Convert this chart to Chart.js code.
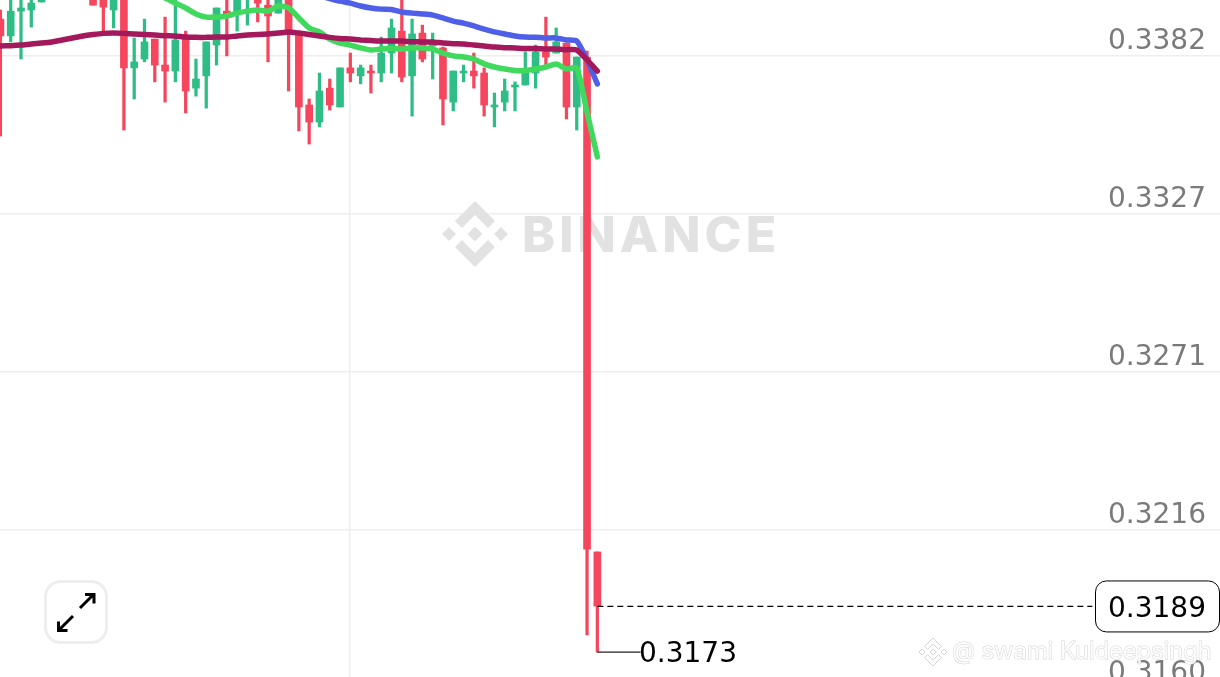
<!DOCTYPE html><html lang="en">
<head>
<meta charset="utf-8"/>
<title>Candlestick chart</title>
<script src="https://cdn.jsdelivr.net/npm/chart.js"></script>
<style>
  html,body{margin:0;padding:0;background:#fff;overflow:hidden;width:1220px;height:677px}
  canvas{position:absolute;left:0;top:0}
  .expand{position:absolute;left:44px;top:580px;width:64px;height:64px}
</style>
</head>
<body>
<canvas id="chart" width="1220" height="700"></canvas>
<svg class="expand" viewBox="44 580 64 64" aria-hidden="true">
  <rect x="45.5" y="581.5" width="61" height="61" rx="15" fill="#fff" stroke="#eeeeee" stroke-width="3"/>
  <path d="M80 608L93 595M85 594.5H94V603.5M73 616L59 630M58.500 621.500V630.500H67.500" fill="none" stroke="#000" stroke-width="3"/>
</svg>
<script>
// prices, one entry per candle
const opens = [
  0.33949,0.33890,0.33977,0.33981,0.34009,0.34058,0.34048,0.34062,0.34041,0.34034,
  0.34030,0.33981,0.34037,0.33778,0.33809,0.33879,0.33788,0.33767,0.33879,0.33707,
  0.33750,0.33858,0.33977,0.33974,0.33970,0.34027,0.33998,0.33970,0.34027,0.33900,
  0.33648,0.33588,0.33707,0.33641,0.33778,0.33750,0.33767,0.33760,0.33830,0.33907,
  0.33750,0.33900,0.33855,0.33848,0.33658,0.33760,0.33767,0.33760,0.33641,0.33658,
  0.33711,0.33718,0.33760,0.33834,0.33830,0.33865,0.33641,0.33816,0.32081];
const closes = [
  0.33890,0.33977,0.33988,0.34005,0.34027,0.34044,0.34065,0.34044,0.34058,0.33998,
  0.33991,0.34027,0.33778,0.33799,0.33869,0.33788,0.33767,0.33876,0.33697,0.33739,
  0.33869,0.33988,0.33967,0.34023,0.33981,0.34005,0.33960,0.34023,0.33911,0.33641,
  0.33588,0.33697,0.33648,0.33778,0.33760,0.33778,0.33760,0.33830,0.33918,0.33746,
  0.33897,0.33809,0.33869,0.33669,0.33767,0.33767,0.33750,0.33648,0.33648,0.33697,
  0.33718,0.33771,0.33834,0.33816,0.33869,0.33641,0.33816,0.32091,0.31891];
const highs = [
  0.33981,0.34034,0.34034,0.34027,0.34034,0.34069,0.34079,0.34072,0.34069,0.34044,
  0.34044,0.34037,0.34044,0.33883,0.33949,0.33879,0.33956,0.34027,0.33907,0.33809,
  0.33869,0.33988,0.34027,0.34034,0.34027,0.34034,0.34027,0.34034,0.34034,0.33900,
  0.33669,0.33760,0.33739,0.33778,0.33830,0.33788,0.33788,0.33886,0.33949,0.34034,
  0.33949,0.33928,0.33900,0.33851,0.33767,0.33788,0.33830,0.33778,0.33690,0.33739,
  0.33729,0.33834,0.33858,0.33956,0.33918,0.33865,0.33816,0.33837,0.32081];
const lows = [
  0.33539,0.33869,0.33809,0.33921,0.34009,0.34037,0.34041,0.34037,0.34037,0.33998,
  0.33907,0.33918,0.33560,0.33669,0.33799,0.33729,0.33658,0.33729,0.33620,0.33679,
  0.33637,0.33788,0.33820,0.33907,0.33928,0.33939,0.33799,0.33970,0.33697,0.33557,
  0.33511,0.33571,0.33630,0.33641,0.33729,0.33722,0.33690,0.33729,0.33760,0.33729,
  0.33609,0.33799,0.33739,0.33578,0.33627,0.33729,0.33707,0.33609,0.33571,0.33627,
  0.33627,0.33718,0.33707,0.33778,0.33830,0.33599,0.33560,0.31790,0.31730];

// moving averages, null where the line is off the picture
const maSlow = [
  0.33855,0.33856,0.33858,0.33862,0.33865,0.33869,0.33876,0.33883,0.33890,0.33895,
  0.33899,0.33900,0.33899,0.33897,0.33895,0.33893,0.33891,0.33890,0.33886,0.33885,
  0.33885,0.33886,0.33886,0.33890,0.33893,0.33895,0.33897,0.33900,0.33904,0.33900,
  0.33895,0.33890,0.33885,0.33881,0.33879,0.33876,0.33874,0.33872,0.33872,0.33872,
  0.33870,0.33869,0.33869,0.33865,0.33863,0.33862,0.33858,0.33855,0.33851,0.33849,
  0.33848,0.33846,0.33846,0.33844,0.33844,0.33842,0.33841,0.33806,0.33767];
const maMid = [
  null,null,null,null,null,null,null,null,null,null,
  null,null,null,null,null,null,null,null,null,null,
  null,null,null,null,null,null,null,null,null,null,
  0.34037,0.34030,0.34021,0.34012,0.34005,0.33995,0.33988,0.33984,0.33983,0.33974,
  0.33970,0.33967,0.33963,0.33953,0.33942,0.33935,0.33925,0.33914,0.33904,0.33897,
  0.33890,0.33886,0.33885,0.33883,0.33883,0.33876,0.33872,0.33806,0.33722];
const maFast = [
  null,null,null,null,null,null,null,null,null,null,
  null,null,null,null,null,0.34037,0.34023,0.34005,0.33988,0.33967,
  0.33956,0.33956,0.33960,0.33970,0.33977,0.33981,0.33977,0.33995,0.33988,0.33953,
  0.33918,0.33904,0.33879,0.33865,0.33858,0.33848,0.33841,0.33844,0.33846,0.33844,
  0.33848,0.33848,0.33844,0.33830,0.33820,0.33816,0.33809,0.33792,0.33781,0.33774,
  0.33769,0.33769,0.33774,0.33781,0.33792,0.33774,0.33778,0.33623,0.33466];

const priceTicks = [0.33820,0.33266,0.32712,0.32158,0.31604];
const lastPrice = 0.3189;
const lowPrice = 0.3173;
const lastIndex = 58;

const RED = '#F6465D', GREEN = '#2EBD85';
const FONT = '"DejaVu Sans", sans-serif';
const candleColors = opens.map((o, i) => closes[i] >= o ? GREEN : RED);
const idx = opens.map((_, i) => i);

function line(values, color, order){
  return {type:'line', data: values.map((v, i) => ({x:i, y:v})), borderColor:color, borderWidth:5.5,
    pointRadius:0, borderJoinStyle:'round', borderCapStyle:'round', tension:0.2, order};
}

// logo and name behind the candles, value tags on top
const decor = {
  id:'decor',
  beforeDatasetsDraw(c){
    const g = c.ctx;
    g.save();
    g.fillStyle = '#e2e2e2';
    logo(g, 475, 234, 33);
    g.font = '800 50px Inter, sans-serif';
    g.textBaseline = 'alphabetic';
    g.textAlign = 'left';
    g.letterSpacing = '4px';
    g.fillText('BINANCE', 522, 252);
    g.restore();
  },
  afterDraw(c){
    const g = c.ctx, y = c.scales.y;
    g.save();
    // small credit
    g.globalAlpha = 0.9;
    g.fillStyle = '#fff';
    g.strokeStyle = '#cfcfcf';
    g.lineWidth = 1;
    logoOutline(g, 933, 652, 14);
    g.font = '24px Inter, sans-serif';
    g.textAlign = 'left';
    g.textBaseline = 'middle';
    g.letterSpacing = '-0.2px';
    g.strokeText('@ swami Kuldeepsingh', 952, 652);
    g.fillText('@ swami Kuldeepsingh', 952, 652);
    g.globalAlpha = 1;
    g.letterSpacing = '0px';
    // last price tag
    const py = y.getPixelForValue(lastPrice);
    g.beginPath();
    g.roundRect(1095.5, py - 25.5, 124, 51, 11);
    g.fillStyle = '#fff';
    g.fill();
    g.strokeStyle = '#000';
    g.lineWidth = 1;
    g.stroke();
    g.fillStyle = '#000';
    g.font = '28px ' + FONT;
    g.textAlign = 'right';
    g.fillText(lastPrice.toFixed(4), 1206, py + 3);
    // lowest price tag
    g.textAlign = 'left';
    g.fillText(lowPrice.toFixed(4), 639, y.getPixelForValue(lowPrice) + 3);
    g.restore();
  }
};

function logoPaths(g, cx, cy, r){
  const k = r / 33;
  const poly = pts => {
    g.moveTo(cx + pts[0][0]*k, cy + pts[0][1]*k);
    pts.slice(1).forEach(p => g.lineTo(cx + p[0]*k, cy + p[1]*k));
    g.closePath();
  };
  poly([[0,-7.5],[7.5,0],[0,7.5],[-7.5,0]]);
  poly([[-26,-7],[-19,0],[-26,7],[-33,0]]);
  poly([[26,-7],[33,0],[26,7],[19,0]]);
  poly([[0,-33],[20,-13],[13,-6],[0,-19],[-13,-6],[-20,-13]]);
  poly([[0,33],[-20,13],[-13,6],[0,19],[13,6],[20,13]]);
}
function logo(g, cx, cy, r){ g.beginPath(); logoPaths(g, cx, cy, r); g.fill(); }
function logoOutline(g, cx, cy, r){ g.beginPath(); logoPaths(g, cx, cy, r); g.fill(); g.stroke(); }

// the axes sit inside the plot, so they take no room and no margins
function noRoom(s){
  s.paddingTop = s.paddingBottom = s.paddingLeft = s.paddingRight = 0;
  if(s.axis === 'x') s.height = 0; else s.width = 0;
}

new Chart(document.getElementById('chart'), {
  type:'bar',
  plugins:[decor],
  data:{
    datasets:[
      line(maSlow, '#A3195B', 1),
      line(maMid, '#4F5FE8', 2),
      line(maFast, '#41D95D', 3),
      {type:'line', data:[{x:lastIndex, y:lastPrice},{x:106.1, y:lastPrice}], borderColor:'#000', borderWidth:1.2,
        borderDash:[6,4], pointRadius:0, order:4},
      {type:'line', data:[{x:lastIndex, y:lowPrice},{x:62.2, y:lowPrice}], borderColor:'#222', borderWidth:1.2,
        pointRadius:0, order:4},
      {data: idx.map(i => ({x:i, y:[opens[i], closes[i]]})), backgroundColor:candleColors, barThickness:7, grouped:false, order:5},
      {data: idx.map(i => ({x:i, y:[lows[i], highs[i]]})), backgroundColor:candleColors, barThickness:2.6, grouped:false, order:6}
    ]
  },
  options:{
    responsive:false,
    animation:false,
    events:[],
    layout:{padding:0},
    plugins:{legend:{display:false}, tooltip:{enabled:false}},
    scales:{
      x:{
        type:'linear', min:-0.04, max:118.5, offset:false,
        grid:{color:'#eeeeee', lineWidth:1.5, drawTicks:false, offset:false},
        border:{display:false},
        ticks:{display:false},
        afterBuildTicks: s => { s.ticks = [{value:33.95}]; },
        afterFit: noRoom
      },
      y:{
        position:'right', min:0.31562, max:0.34016,
        grid:{color:'#eeeeee', lineWidth:1.5, drawTicks:false},
        border:{display:false},
        ticks:{
          mirror:true, padding:-14, labelOffset:-14, autoSkip:false, color:'#7a7a7a',
          font:{family:FONT, size:28},
          callback: v => v.toFixed(4)
        },
        afterBuildTicks: s => { s.ticks = priceTicks.map(v => ({value:v})); },
        afterFit: noRoom
      }
    }
  }
});
</script>
</body>
</html>
